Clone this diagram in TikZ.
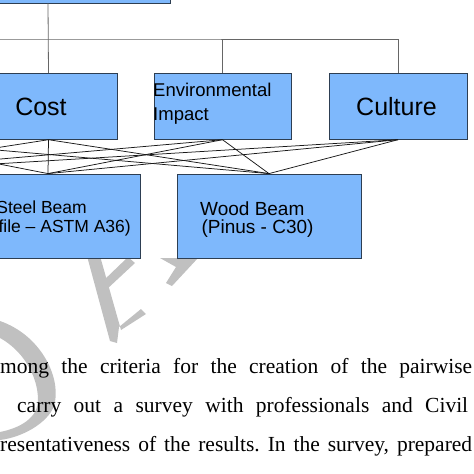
\documentclass[tikz,border=0pt]{standalone}
\usepackage{fontspec}
\setmainfont{Liberation Serif}
\setsansfont{Liberation Sans}
\definecolor{boxblue}{RGB}{126,184,252}
\definecolor{boxline}{RGB}{45,62,82}
\definecolor{wmgray}{RGB}{192,192,192}
\frenchspacing
\begin{document}
\begin{tikzpicture}[x=1pt,y=-1pt,
		box/.style={draw=boxline,fill=boxblue,line width=0.8pt,inner sep=0pt},
		crit/.style={box,minimum width=137pt,minimum height=65.8pt},
		alt/.style={box,minimum width=184pt,minimum height=84pt},
		big/.style={font=\sffamily\fontsize{25}{30}\selectfont,inner sep=0pt,anchor=base},
		small/.style={font=\sffamily\fontsize{19}{22}\selectfont,inner sep=0pt},
		tree/.style={draw=black!60,line width=0.8pt},
		link/.style={draw=black!90,line width=0.75pt},
		body/.style={font=\fontsize{21.5}{26}\selectfont,inner sep=0pt,anchor=base west} ]
	\useasboundingbox (0,0) rectangle (474,474);
	\clip (0,0) rectangle (474,474);
	% watermark
	\fill[wmgray] (0,321) .. controls (40,335) and (60,375) .. (55,402)
	  .. controls (52,420) and (25,437) .. (0,440) -- (0,432)
	  .. controls (20,428) and (38,418) .. (38,400)
	  .. controls (38,375) and (22,350) .. (0,338) -- cycle;
	\fill[wmgray] (87,256) -- (100,256) -- (121,330) -- (146,314) -- (141,309)
	  -- (119,327) -- (117,343) -- (110,341) -- cycle;
	\fill[wmgray] (102,282) -- (106,290) -- (135,263) -- (128,257) -- cycle;
	\fill[wmgray] (160,258) -- (198,258) -- (172,286) -- (166,283) -- (176,267) -- cycle;
	% boxes
	\node[box,minimum width=244pt,minimum height=44pt] (goal) at (48,-19) {};
	\node[crit] (cost) at (48.5,106.4) {};
	\node[crit] (env) at (222.5,106.4) {};
	\node[crit,minimum width=138pt] (culture) at (398,106.4) {};
	\node[alt] (steel) at (48,216) {};
	\node[alt] (wood) at (269,216) {};
	\coordinate (critLtop) at (-127,73.5);
	\coordinate (critL) at (-127,139.3);
	\coordinate (altL) at (-172,174);
	\coordinate (fork) at (48,39);
	% hierarchy
	\draw[tree] (goal.south) -- (cost.north);
	\draw[tree] (critLtop) |- (fork) -| (culture.north);
	\draw[tree] (fork -| env.north) -- (env.north);
	\foreach \c in {critL,cost.south,env.south,culture.south}
	  \foreach \a in {altL,steel.north,wood.north}
	    \draw[link] (\c) -- (\a);
	% labels
	\node[big] (costtxt) at (41,115) {Cost};
	\node[big] (culturetxt) at (396.5,115) {Culture};
	\node[small,font=\sffamily\fontsize{18.5}{22}\selectfont,anchor=base west] (envtxta) at (153,96.7) {Environmental};
	\node[small,font=\sffamily\fontsize{18.5}{22}\selectfont,anchor=base west] (envtxtb) at (153,120) {Impact};
	\node[small,font=\sffamily\fontsize{17.5}{20}\selectfont,anchor=base east] (steeltxta) at (87,213.5) {Steel Beam};
	\node[small,font=\sffamily\fontsize{17.5}{20}\selectfont,anchor=base east] (steeltxtb) at (131,232) {file – ASTM A36)};
	\node[small,anchor=base west] (woodtxta) at (200,215.5) {Wood Beam};
	\node[small,anchor=base west] (woodtxtb) at (201.4,233.3) {(Pinus - C30)};
	% text below
	\node[body] (para1) at (0,373) {\makebox[472pt][s]{mong the criteria for the creation of the pairwise}};
	\node[body] (para2) at (17,412.5) {\makebox[451pt][s]{carry out a survey with professionals and Civil}};
	\node[body] (para3) at (0,451) {\makebox[472pt][s]{resentativeness of the results. In the survey, prepared}};
\end{tikzpicture}
\end{document}
